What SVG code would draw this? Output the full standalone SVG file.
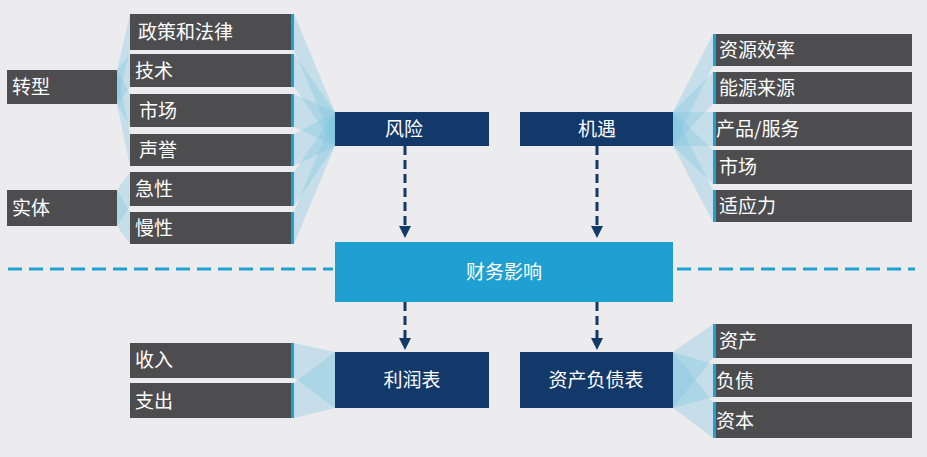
<svg xmlns="http://www.w3.org/2000/svg" width="927" height="457" viewBox="0 0 927 457">
<style>
.g{fill:#4d4d50}
.n{fill:#13386a}
.e{fill:#1f9fd2}
.f{fill:#7fc6e0;opacity:0.35}
.t{font-family:"Noto Sans CJK SC","Liberation Sans",sans-serif;font-size:19px;fill:#ffffff}
.c{text-anchor:middle}
.d{stroke:#13386a;stroke-width:3;stroke-dasharray:9 5;fill:none}
.h{stroke:#1f9fd2;stroke-width:3;stroke-dasharray:14 7;fill:none}
</style>
<defs><marker id="a" markerWidth="4" markerHeight="4" refX="2" refY="2" orient="auto"><path d="M0,0 L4,2 L0,4z" fill="#13386a"/></marker></defs>
<rect width="927" height="457" fill="#ececee"/>
<g id="fans">
<polygon class="f" points="117,70 117,104 130,50 130,14"/>
<polygon class="f" points="117,70 117,104 130,87 130,54"/>
<polygon class="f" points="117,70 117,104 130,127 130,94"/>
<polygon class="f" points="117,70 117,104 130,166 130,134"/>
<polygon class="f" points="117,190 117,226 130,206 130,172"/>
<polygon class="f" points="117,190 117,226 130,244 130,212"/>
<polygon class="f" points="294,14 294,50 335,146 335,112"/>
<polygon class="f" points="294,54 294,87 335,146 335,112"/>
<polygon class="f" points="294,94 294,127 335,146 335,112"/>
<polygon class="f" points="294,134 294,166 335,146 335,112"/>
<polygon class="f" points="294,172 294,206 335,146 335,112"/>
<polygon class="f" points="294,212 294,244 335,146 335,112"/>
<polygon class="f" points="713,34 713,66 673,146 673,112"/>
<polygon class="f" points="713,72 713,104 673,146 673,112"/>
<polygon class="f" points="713,112 713,146 673,146 673,112"/>
<polygon class="f" points="713,150 713,184 673,146 673,112"/>
<polygon class="f" points="713,190 713,222 673,146 673,112"/>
<polygon class="f" points="294,343 294,378 335,408 335,352"/>
<polygon class="f" points="294,383 294,418 335,408 335,352"/>
<polygon class="f" points="713,324 713,358 673,408 673,352"/>
<polygon class="f" points="713,364 713,397 673,408 673,352"/>
<polygon class="f" points="713,402 713,438 673,408 673,352"/>
</g>
<g id="connectors">
<line class="h" x1="8" y1="269" x2="333" y2="269"/>
<line class="h" x1="677" y1="269" x2="915" y2="269"/>
<line class="d" x1="405" y1="146" x2="405" y2="232" marker-end="url(#a)"/>
<line class="d" x1="597" y1="146" x2="597" y2="232" marker-end="url(#a)"/>
<line class="d" x1="405" y1="302" x2="405" y2="344" marker-end="url(#a)"/>
<line class="d" x1="597" y1="302" x2="597" y2="344" marker-end="url(#a)"/>
</g>
<g id="n-zhuanxing"><rect class="g" x="7" y="70" width="110" height="34"/><text class="t" x="12" y="94">转型</text></g>
<g id="n-shiti"><rect class="g" x="7" y="190" width="110" height="36"/><text class="t" x="12" y="215">实体</text></g>
<g id="n-l1"><rect class="g" x="130" y="14" width="164" height="36"/><rect class="e" x="291" y="14" width="3" height="36"/><text class="t" x="138" y="39">政策和法律</text></g>
<g id="n-l2"><rect class="g" x="130" y="54" width="164" height="33"/><rect class="e" x="291" y="54" width="3" height="33"/><text class="t" x="135" y="78">技术</text></g>
<g id="n-l3"><rect class="g" x="130" y="94" width="164" height="33"/><rect class="e" x="291" y="94" width="3" height="33"/><text class="t" x="139" y="118">市场</text></g>
<g id="n-l4"><rect class="g" x="130" y="134" width="164" height="32"/><rect class="e" x="291" y="134" width="3" height="32"/><text class="t" x="139" y="157">声誉</text></g>
<g id="n-l5"><rect class="g" x="130" y="172" width="164" height="34"/><rect class="e" x="291" y="172" width="3" height="34"/><text class="t" x="135" y="196">急性</text></g>
<g id="n-l6"><rect class="g" x="130" y="212" width="164" height="32"/><rect class="e" x="291" y="212" width="3" height="32"/><text class="t" x="135" y="235">慢性</text></g>
<g id="n-risk"><rect class="n" x="335" y="112" width="154" height="34"/><text class="t c" x="404" y="136">风险</text></g>
<g id="n-opp"><rect class="n" x="520" y="112" width="153" height="34"/><text class="t c" x="597" y="136">机遇</text></g>
<g id="n-fin"><rect class="e" x="335" y="242" width="338" height="60"/><text class="t c" x="504" y="279">财务影响</text></g>
<g id="n-pl"><rect class="n" x="335" y="352" width="154" height="56"/><text class="t c" x="412" y="387">利润表</text></g>
<g id="n-bs"><rect class="n" x="520" y="352" width="153" height="56"/><text class="t c" x="596" y="387">资产负债表</text></g>
<g id="n-r1"><rect class="g" x="713" y="34" width="199" height="32"/><rect class="e" x="713" y="34" width="3" height="32"/><text class="t" x="719" y="57">资源效率</text></g>
<g id="n-r2"><rect class="g" x="713" y="72" width="199" height="32"/><rect class="e" x="713" y="72" width="3" height="32"/><text class="t" x="719" y="95">能源来源</text></g>
<g id="n-r3"><rect class="g" x="713" y="112" width="199" height="34"/><rect class="e" x="713" y="112" width="3" height="34"/><text class="t" x="716" y="136">产品/服务</text></g>
<g id="n-r4"><rect class="g" x="713" y="150" width="199" height="34"/><rect class="e" x="713" y="150" width="3" height="34"/><text class="t" x="719" y="174">市场</text></g>
<g id="n-r5"><rect class="g" x="713" y="190" width="199" height="32"/><rect class="e" x="713" y="190" width="3" height="32"/><text class="t" x="719" y="213">适应力</text></g>
<g id="n-in"><rect class="g" x="130" y="343" width="164" height="35"/><rect class="e" x="291" y="343" width="3" height="35"/><text class="t" x="135" y="367">收入</text></g>
<g id="n-out"><rect class="g" x="130" y="383" width="164" height="35"/><rect class="e" x="291" y="383" width="3" height="35"/><text class="t" x="135" y="408">支出</text></g>
<g id="n-b1"><rect class="g" x="713" y="324" width="199" height="34"/><rect class="e" x="713" y="324" width="3" height="34"/><text class="t" x="719" y="348">资产</text></g>
<g id="n-b2"><rect class="g" x="713" y="364" width="199" height="33"/><rect class="e" x="713" y="364" width="3" height="33"/><text class="t" x="716" y="388">负债</text></g>
<g id="n-b3"><rect class="g" x="713" y="402" width="199" height="36"/><rect class="e" x="713" y="402" width="3" height="36"/><text class="t" x="716" y="428">资本</text></g>
</svg>
